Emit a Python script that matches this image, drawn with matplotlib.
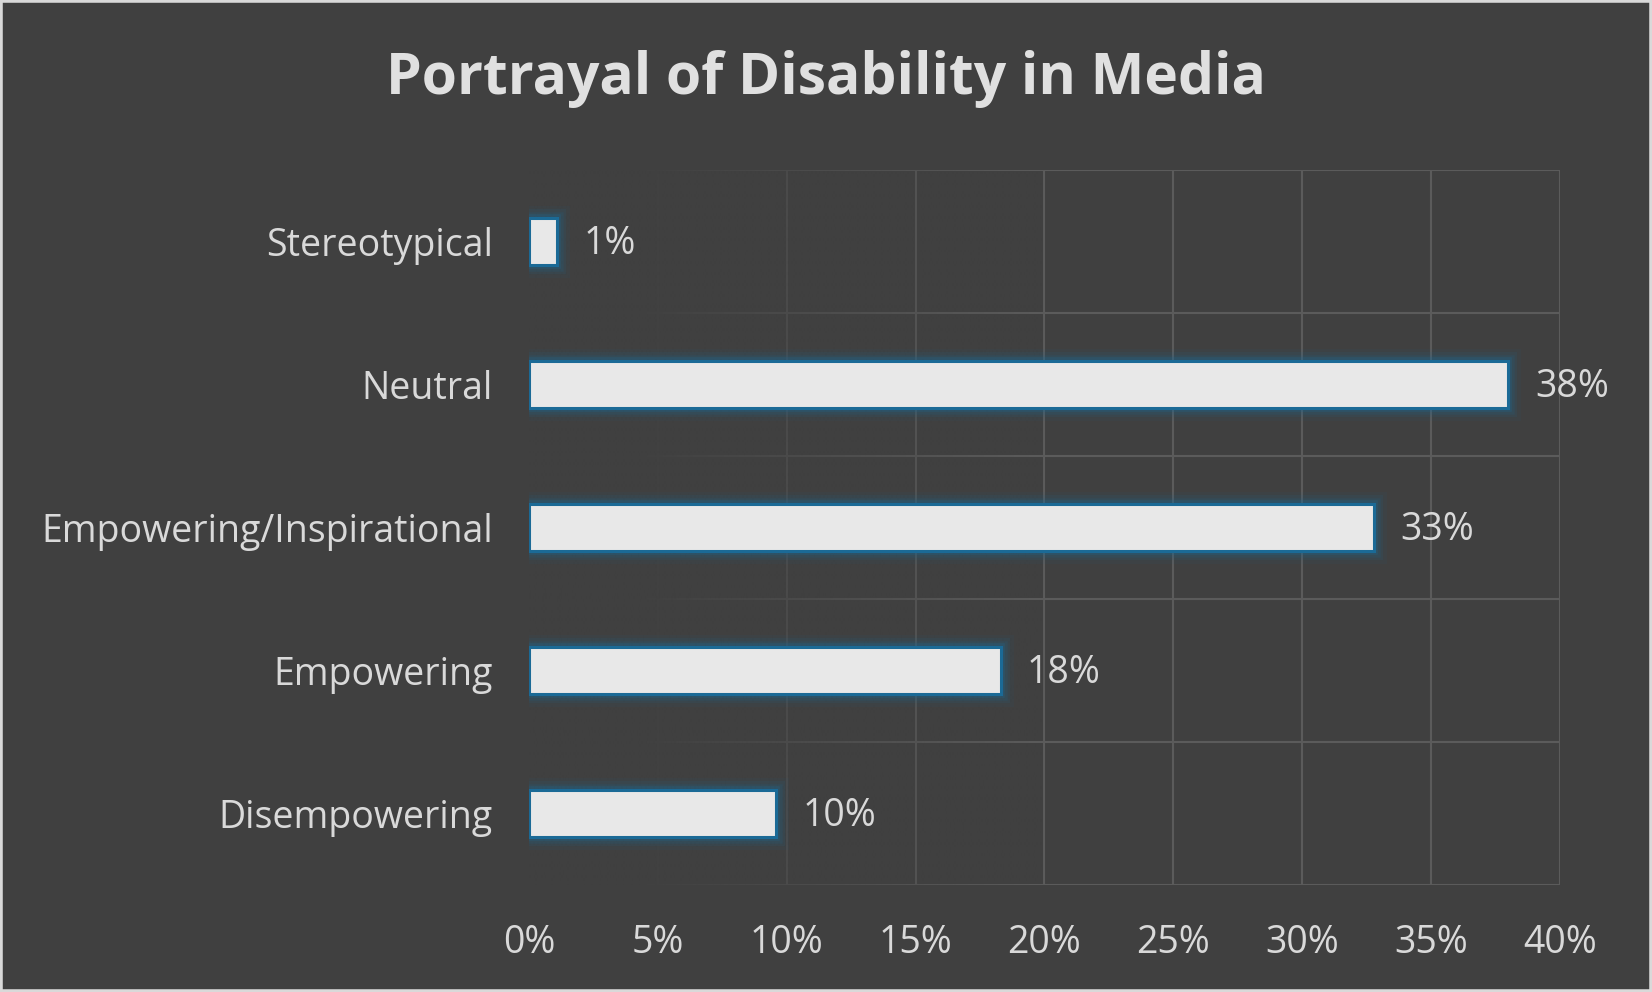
import numpy as np
import matplotlib
matplotlib.use("Agg")
import matplotlib.pyplot as plt
from matplotlib.patches import Rectangle

# ── Data ──────────────────────────────────────────────────────────────────────
categories = ["Disempowering", "Empowering", "Empowering/Inspirational",
              "Neutral", "Stereotypical"]
values = [9.6, 18.3, 32.8, 38.0, 1.1]
xticks = [0, 5, 10, 15, 20, 25, 30, 35, 40]
title = "Portrayal of Disability in Media"

# ── Style ─────────────────────────────────────────────────────────────────────
BG = "#404040"
GRID = "#5b5b5b"
TEXT = "#d9d9d9"
BAR_FC = "#e8e8e8"
BAR_EC = "#1b6a96"
FS = 27

plt.rcParams["font.family"] = ["Open Sans", "DejaVu Sans"]

fig = plt.figure(figsize=(16.52, 9.92), dpi=100, facecolor=BG)
fig.patches.append(Rectangle((0, 0), 1, 1, transform=fig.transFigure,
                             facecolor="none", edgecolor="#d9d9d9",
                             linewidth=4, zorder=10))
ax = fig.add_axes([0.3202, 0.1079, 0.6241, 0.7207])
ax.set_facecolor(BG)

y = np.arange(len(categories))
ax.set_xlim(0, 40)
ax.set_ylim(-0.5, len(categories) - 0.5)

# grid: vertical at ticks, horizontal at category boundaries
for xv in xticks:
    ax.axvline(xv, color=GRID, linewidth=1.5, zorder=1)
for yb in np.arange(-0.5, len(categories), 1.0):
    ax.axhline(yb, color=GRID, linewidth=1.5, zorder=1)

# fade grid toward the left
grad = np.ones((1, 256, 4))
grad[..., :3] = matplotlib.colors.to_rgb(BG)
xs = np.linspace(0, 40, 256)
grad[0, :, 3] = np.clip(1 - (xs - 4) / 16.0, 0, 1)
ax.imshow(grad, extent=(0, 40, -0.5, len(categories) - 0.5), aspect="auto",
          zorder=2, interpolation="bilinear")

# glow behind bars
h = 0.33
for lw, a in [(18, 0.06), (13, 0.1), (9, 0.14), (5.5, 0.24)]:
    ax.barh(y, values, height=h, color="none", edgecolor=BAR_EC,
            linewidth=lw, alpha=a, zorder=3)
ax.barh(y, values, height=h, color=BAR_FC, edgecolor=BAR_EC,
        linewidth=2.2, zorder=4)

for yi, v in zip(y, values):
    ax.annotate(f"{v:.0f}%", xy=(v, yi), xytext=(19, -2),
                textcoords="offset points", ha="left", va="center",
                fontsize=FS, color=TEXT)

ax.set_xticks(xticks)
ax.set_xticklabels([f"{t}%" for t in xticks])
ax.set_yticks(y)
ax.set_yticklabels(categories)
ax.tick_params(axis="x", length=0, pad=28, labelsize=FS, labelcolor=TEXT)
ax.tick_params(axis="y", length=0, pad=26, labelsize=FS, labelcolor=TEXT)
for s in ax.spines.values():
    s.set_visible(False)

fig.text(0.5, 0.92, title, ha="center", va="center", fontsize=41,
         fontweight="bold", color="#e0e0e0")

fig.savefig("out.png", dpi=100, facecolor=BG)
